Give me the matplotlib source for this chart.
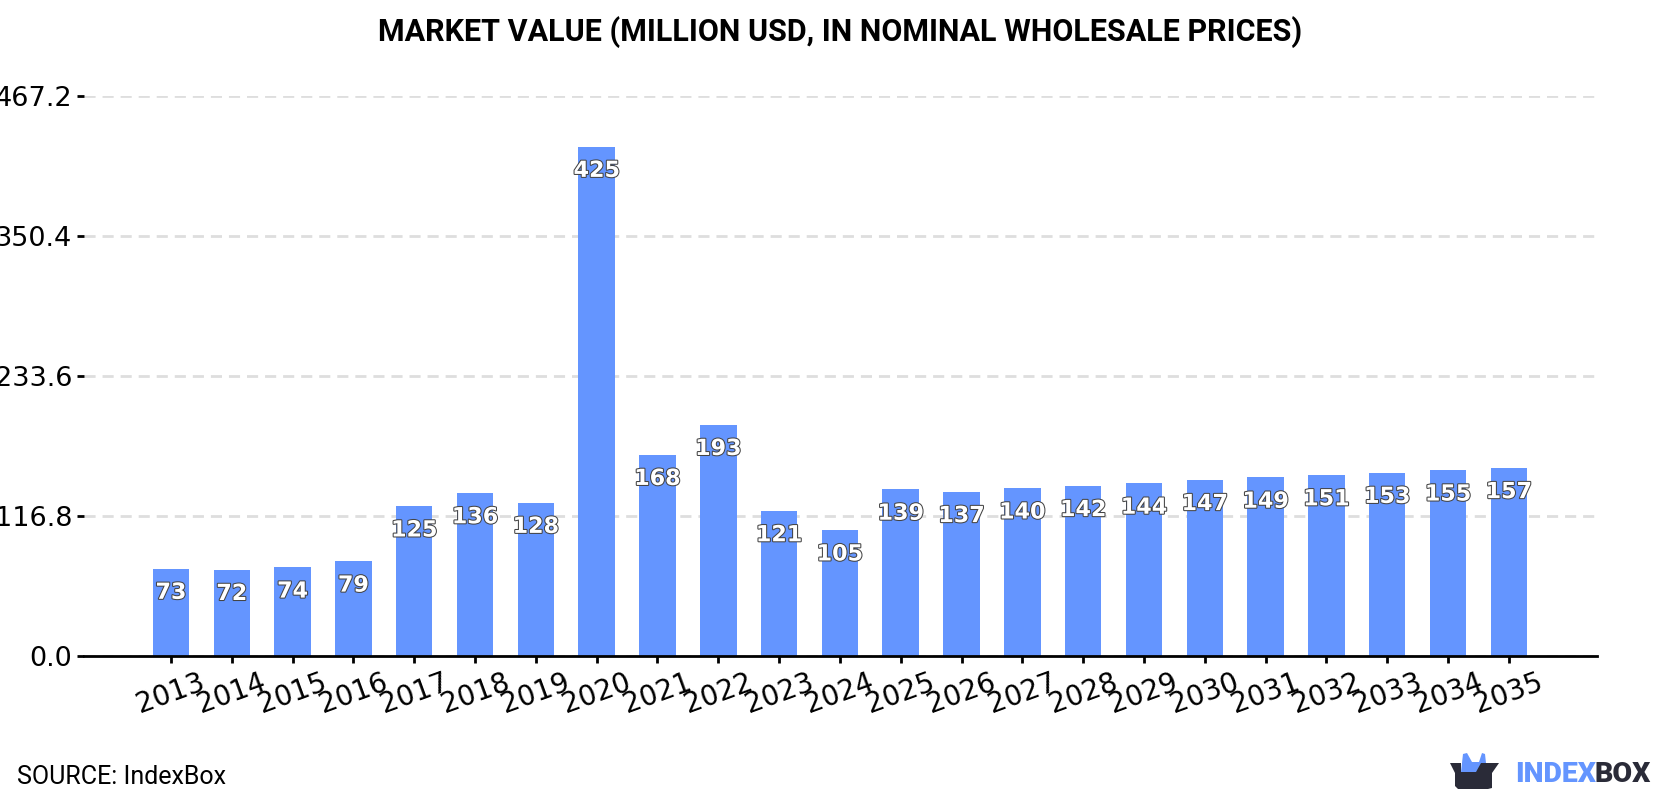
"""Market value bar chart with forecast years."""

import matplotlib

matplotlib.use("Agg")
import matplotlib.patheffects as pe
import matplotlib.pyplot as plt
from matplotlib.patches import Polygon

YEARS = list(range(2013, 2036))
VALUES = [73, 72, 74, 79, 125, 136, 128, 425, 168, 193, 121, 105, 139, 137, 140, 142, 144, 147, 149, 151, 153, 155, 157]
Y_TICKS = [0.0, 116.8, 233.6, 350.4, 467.2]

BLUE = "#6495FF"
DARK = "#2A2B38"

W, H = 1680, 800
fig = plt.figure(figsize=(W / 100, H / 100), dpi=100, facecolor="white")
ax = fig.add_axes([84 / W, 1 - 656 / H, (1597 - 84) / W, 560 / H])

ax.bar(YEARS, VALUES, width=0.6, color=BLUE, zorder=3)
ax.set_xlim(2013 - 1.43, 2013 + 23.45)
ax.set_ylim(0, 467.2)

ax.set_yticks(Y_TICKS)
ax.set_yticklabels([f"{t:.1f}" for t in Y_TICKS])
ax.set_xticks(YEARS)
ax.set_xticklabels(YEARS, rotation=20)
ax.tick_params(axis="y", labelsize=19.5, length=5, width=2, pad=3.5)
ax.tick_params(axis="x", labelsize=20, length=5, width=2, pad=4)
ax.yaxis.grid(True, color="#DEDEDE", linestyle=(0, (4, 2.5)), linewidth=2, zorder=0)
ax.set_axisbelow(True)

for side in ("top", "right", "left"):
    ax.spines[side].set_visible(False)
ax.spines["bottom"].set_linewidth(2)
ax.spines["bottom"].set_zorder(5)

for year, value in zip(YEARS, VALUES):
    ax.annotate(
        str(value),
        (year, value),
        xytext=(0, -17.5),
        textcoords="offset points",
        ha="center",
        va="center",
        fontsize=16,
        fontweight="bold",
        color="white",
        zorder=6,
        path_effects=[pe.withStroke(linewidth=1.5, foreground="#444444")],
    )

fig.text(840 / W, 1 - 32 / H, "MARKET VALUE (MILLION USD, IN NOMINAL WHOLESALE PRICES)",
         ha="center", va="center", family="Roboto", fontweight="bold", fontsize=22, color="black")
fig.text(17 / W, 1 - 777 / H, "SOURCE: IndexBox", ha="left", va="center",
         family="Roboto", fontsize=18, color="black")

# logo drawn in pixel coordinates on a full-figure overlay
logo = fig.add_axes([0, 0, 1, 1], facecolor="none")
logo.set_xlim(0, W)
logo.set_ylim(H, 0)
logo.axis("off")
logo.add_patch(Polygon([(1461, 772), (1463, 754), (1467, 753), (1472, 762), (1479, 762),
                        (1482, 753), (1485, 754), (1487, 772)], color=BLUE, lw=0))
logo.add_patch(Polygon([(1450, 763), (1461, 763), (1461, 772), (1476, 772), (1481, 763), (1499, 763),
                        (1492, 773), (1492, 788), (1488, 789), (1458, 789), (1455, 786), (1455, 773)],
                       color=DARK, lw=0))
fig.text(1515 / W, 1 - 775 / H, "INDEX", ha="left", va="center", family="Roboto",
         fontweight="black", fontsize=20.5, color=BLUE)
fig.text(1595 / W, 1 - 775 / H, "BOX", ha="left", va="center", family="Roboto",
         fontweight="black", fontsize=20.5, color=DARK)

fig.savefig("out.png", dpi=100, facecolor="white")
